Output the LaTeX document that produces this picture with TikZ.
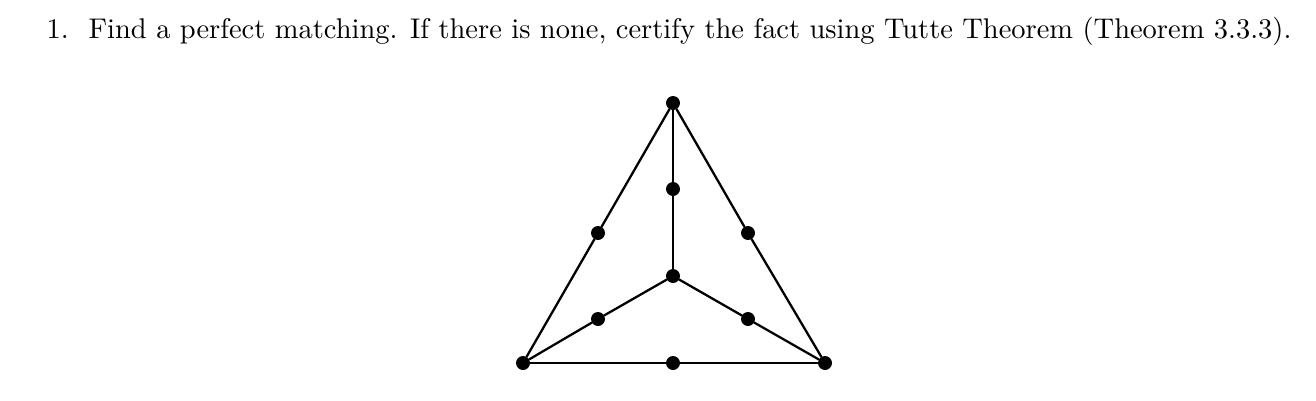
\documentclass[tikz,border=0pt]{standalone}
\usepackage{tikz}
\usetikzlibrary{positioning}
\tikzstyle{tinyvertex}=[circle,fill=black,draw,minimum size=7.5pt,inner sep=0pt]
\tikzstyle{undirectededge} = [draw,line width=1.3pt]
\tikzstyle{task} = [anchor=base west,inner sep=0pt,font=\normalsize,scale=1.62]

\begin{document}
\begin{tikzpicture}[x=0.02cm,y=-0.02cm]
    \useasboundingbox (0,0) rectangle (1316,400);
    % the exercise text
    \node[task] (T) at (46,38) {1.\hspace{7pt}Find a perfect matching. If there is none, certify the fact using Tutte Theorem (Theorem 3.3.3).};

    % First we draw the vertices
    \foreach \pos/\name in {{(673,103)/Top}, {(673,189)/TM}, {(598,233)/LM}, {(748,233)/RM}, {(673,276)/C}, {(598,319)/IL}, {(748,319)/IR}, {(523,363)/BL}, {(825,363)/BR}, {(673,363)/BM}}
        \node[tinyvertex] (\name) at \pos {};
    % Connect vertices with edges
    \foreach \source/ \dest in {Top/TM, TM/C, Top/LM, LM/BL, Top/RM, RM/BR, C/IL, IL/BL, C/IR, IR/BR, BL/BM, BM/BR}
        \path[undirectededge] (\source) -- (\dest);
\end{tikzpicture}
\end{document}
